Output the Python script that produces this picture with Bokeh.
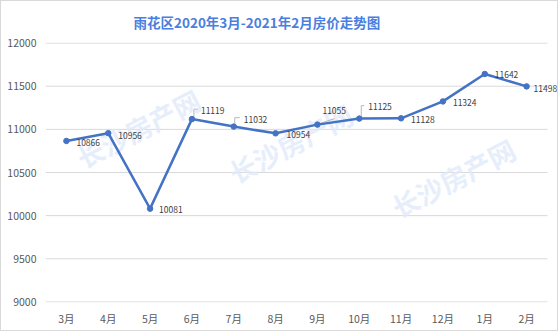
from bokeh.plotting import figure
from bokeh.models import Range1d, FixedTicker, NumeralTickFormatter, ColumnDataSource
from bokeh.core.properties import value
from bokeh.embed import file_html
from bokeh.resources import INLINE

# ---- data ----
months = ["3月", "4月", "5月", "6月", "7月", "8月", "9月", "10月", "11月", "12月", "1月", "2月"]
prices = [10866, 10956, 10081, 11119, 11032, 10954, 11055, 11125, 11128, 11324, 11642, 11498]
y_ticks = [9000, 9500, 10000, 10500, 11000, 11500, 12000]
title_text = "雨花区2020年3月-2021年2月房价走势图"
watermark = "长沙房产网"

# ---- styling (label offsets in screen px: right, down) ----
label_dx = [10, 10, 9, 9, 10, 11, 5, 9, 10, 10, 10, 7]
label_dy = [2, 2, 1, -9, -7, 1, -14, -12, 1, 1, 1, 2]
# leader lines: month index -> list of (dx, dy) px points relative to data point
leaders = {3: [(2, -1), (2, -10), (6, -10)],
           4: [(1, -2), (1, -9), (6, -9)],
           6: [(2, -1), (17, -6)],
           7: [(2, -1), (2, -13), (5, -13)]}
wm_spots = [(1.72, 11011), (5.36, 10839), (9.25, 10437)]

W, H = 558, 331
BL, BT, BB = 44, 41, 30
plot_w = 502          # width of the category area (gridlines)
BR = 2                # frame extends past gridlines so labels are not clipped
frame_w = W - BL - BR
frame_h = H - BT - BB
ymin, ymax = y_ticks[0], y_ticks[-1]
n = len(months)
ux = n / plot_w
uy = (ymax - ymin) / frame_h
x_end = -0.5 + frame_w * ux

xs = list(range(n))

p = figure(width=W, height=H, output_backend="svg", toolbar_location=None,
           x_range=Range1d(-0.5, x_end), y_range=Range1d(ymin - 0.6 * uy, ymax + 0.6 * uy),
           min_border_left=BL, min_border_right=BR, min_border_top=BT, min_border_bottom=BB,
           title=title_text)
p.styles = {"border": "1px solid #d9d9d9"}
p.background_fill_color = "white"
p.border_fill_color = "white"
p.outline_line_color = None

p.title.text_font = "Noto Sans CJK SC"
p.title.text_font_size = "13.5px"
p.title.text_font_style = "bold"
p.title.text_color = "#4a7ee0"
p.title.align = "left"
p.title.offset = 88
p.title.standoff = 18
p.title.vertical_align = "top"

# axes
p.xaxis.ticker = FixedTicker(ticks=xs)
p.xaxis.major_label_overrides = {i: m for i, m in enumerate(months)}
p.yaxis.ticker = FixedTicker(ticks=y_ticks)
p.yaxis.formatter = NumeralTickFormatter(format="0")
for ax in (p.xaxis[0], p.yaxis[0]):
    ax.axis_line_color = None
    ax.major_tick_line_color = None
    ax.minor_tick_line_color = None
    ax.major_tick_out = 0
    ax.major_tick_in = 0
    ax.major_label_text_font = "Noto Sans CJK SC"
    ax.major_label_text_font_size = "10.5px"
    ax.major_label_text_color = "#595959"
p.yaxis.major_label_standoff = 9
p.xaxis.major_label_standoff = 8
p.xgrid.grid_line_color = None
p.ygrid.grid_line_color = None

# gridlines limited to the category area
p.segment(x0=[-0.5] * len(y_ticks), x1=[n - 0.5] * len(y_ticks), y0=y_ticks, y1=y_ticks,
          line_color="#d9d9d9", line_width=1)

# watermark
p.text(x=[s[0] for s in wm_spots], y=[s[1] for s in wm_spots], text=[watermark] * len(wm_spots),
       angle=0.48, text_font=value("Noto Sans CJK SC"), text_font_size="27px",
       text_font_style="bold", text_color="#e1eafa", text_alpha=0.8,
       text_align="center", text_baseline="middle")

# leader lines
lx, ly = [], []
for i, pts in leaders.items():
    lx.append([xs[i] + dx * ux for dx, dy in pts])
    ly.append([prices[i] - dy * uy for dx, dy in pts])
p.multi_line(lx, ly, line_color="#a6a6a6", line_width=0.8)

# series
src = ColumnDataSource(dict(x=xs, y=prices, t=[str(v) for v in prices], dx=label_dx, dy=label_dy))
p.line("x", "y", source=src, line_color="#4472c4", line_width=2.5)
p.scatter("x", "y", source=src, size=5.5, fill_color="#4472c4", line_color="#4472c4")
p.text("x", "y", text="t", source=src, x_offset="dx", y_offset="dy",
       text_font=value("Noto Sans CJK SC"), text_font_size="8.5px", text_color="#404040",
       text_align="left", text_baseline="middle")

open("out.html", "w").write(file_html(p, INLINE))
